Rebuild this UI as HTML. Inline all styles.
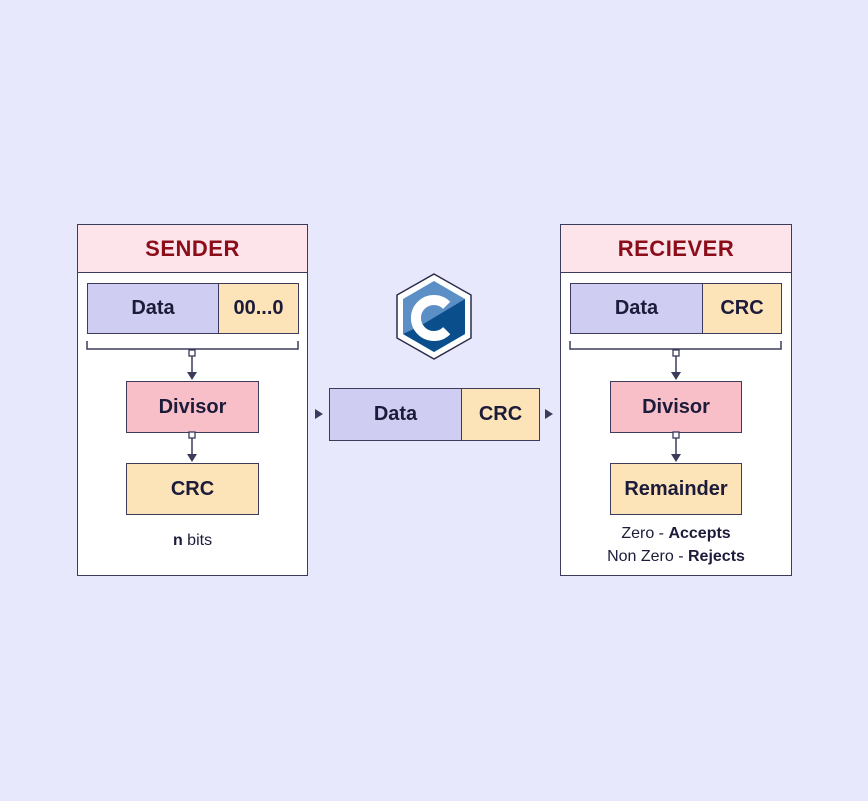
<!DOCTYPE html>
<html><head><style>
body{margin:0;width:868px;height:801px;background:#e8e8fc;font-family:"Liberation Sans",sans-serif;position:relative;overflow:hidden}
.a{position:absolute;box-sizing:border-box}
.panel{border:1.5px solid #3b3b5c;background:#fff}
.hdr{background:#fde4ea;border:1.5px solid #3b3b5c;color:#8b0d1a;font-weight:bold;font-size:22px;display:flex;align-items:center;justify-content:center;letter-spacing:0.5px}
.b{border:1.5px solid #3b3b5c;display:flex;align-items:center;justify-content:center;font-weight:bold;font-size:20px;color:#1c1c3a}
.p{background:#cfcdf2}.o{background:#fde3b8}.r{background:#f8bfc8}
.t{font-size:16px;color:#1c1c3a;text-align:center}
</style></head><body>
<!-- sender -->
<div class="a panel" style="left:77px;top:224px;width:231px;height:352px"></div>
<div class="a hdr" style="left:77px;top:224px;width:231px;height:49px">SENDER</div>
<div class="a b p" style="left:87px;top:283px;width:132px;height:51px">Data</div>
<div class="a b o" style="left:218px;top:283px;width:81px;height:51px">00...0</div>
<div class="a b r" style="left:126px;top:381px;width:133px;height:52px">Divisor</div>
<div class="a b o" style="left:126px;top:463px;width:133px;height:52px">CRC</div>
<div class="a t" style="left:77px;top:532px;width:231px"><b>n</b> bits</div>
<!-- receiver -->
<div class="a panel" style="left:560px;top:224px;width:232px;height:352px"></div>
<div class="a hdr" style="left:560px;top:224px;width:232px;height:49px">RECIEVER</div>
<div class="a b p" style="left:570px;top:283px;width:133px;height:51px">Data</div>
<div class="a b o" style="left:702px;top:283px;width:80px;height:51px">CRC</div>
<div class="a b r" style="left:610px;top:381px;width:132px;height:52px">Divisor</div>
<div class="a b o" style="left:610px;top:463px;width:132px;height:52px">Remainder</div>
<div class="a t" style="left:560px;top:522px;width:232px;line-height:23px">Zero - <b>Accepts</b><br>Non Zero - <b>Rejects</b></div>
<!-- middle -->
<div class="a b p" style="left:329px;top:388px;width:133px;height:53px">Data</div>
<div class="a b o" style="left:461px;top:388px;width:79px;height:53px">CRC</div>
<svg class="a" style="left:0;top:0" width="868" height="801">
<g stroke="#3b3b5c" stroke-width="1.5" fill="none">
<path d="M87 341v8h211v-8"/>
<path d="M570 341v8h211v-8"/>
<path d="M192 356v18M192 437v18M676 356v18M676 437v18"/>
</g>
<g fill="#fff" stroke="#3b3b5c" stroke-width="1.3">
<rect x="189" y="350" width="6" height="6"/><rect x="189" y="432" width="6" height="6"/>
<rect x="673" y="350" width="6" height="6"/><rect x="673" y="432" width="6" height="6"/>
</g>
<g fill="#3b3b5c">
<path d="M187 372h10l-5 8z"/><path d="M187 454h10l-5 8z"/>
<path d="M671 372h10l-5 8z"/><path d="M671 454h10l-5 8z"/>
<path d="M315 409v10l8-5z"/><path d="M545 409v10l8-5z"/>
</g>
<!-- logo -->
<polygon points="434,274 471,295 471,338 434,359 397,338 397,295" fill="#fff" stroke="#2c2c4a" stroke-width="1.5"/>
<polygon points="434,281 465,299 465,334 434,352 403,334 403,299" fill="#5b8fc6"/>
<polygon points="465,299 465,334 434,352 403,334 420,326" fill="#0a4f8c"/>
<path d="M446.7 305.3 A18 18 0 1 0 446.7 330.7" fill="none" stroke="#fff" stroke-width="10"/>
</svg>
</body></html>
